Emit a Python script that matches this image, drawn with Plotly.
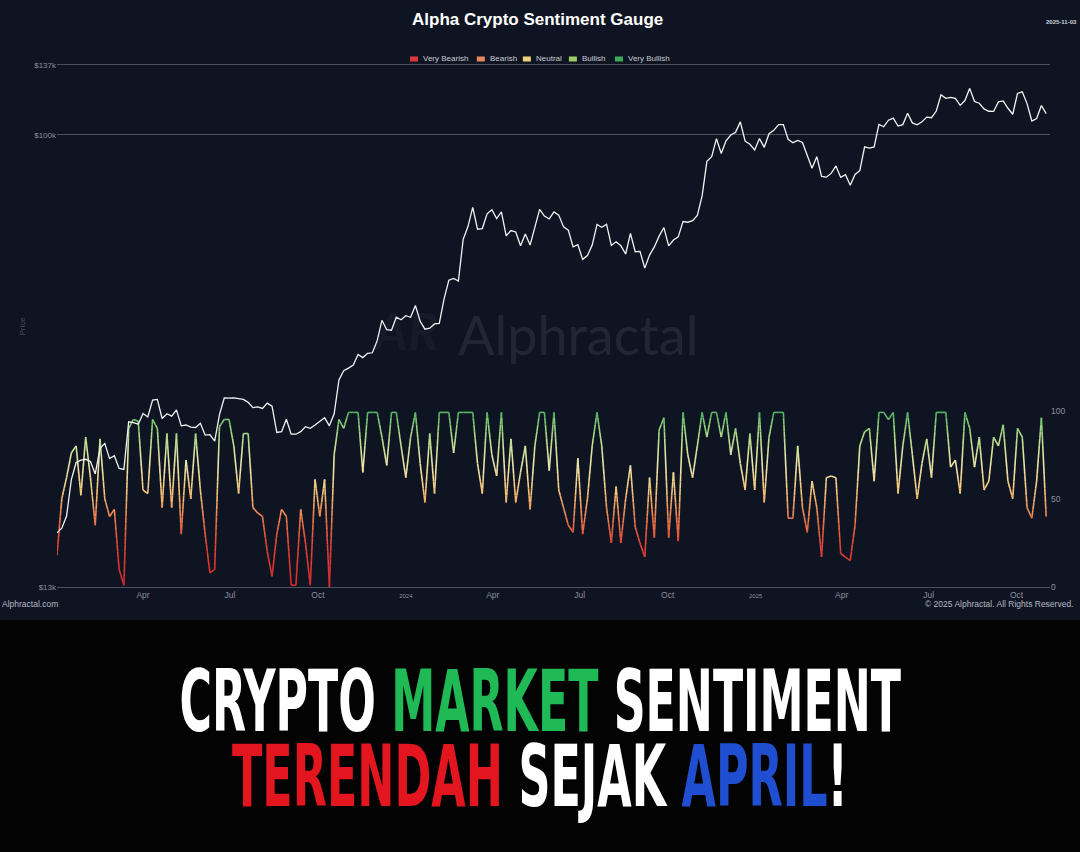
import numpy as np
import pandas as pd
import plotly.graph_objects as go

# ---------------- DATA ----------------
start_date = "2023-01-01"
step_days = 5

btc_price = [
    16600, 16950, 17900, 21100, 22800, 23050, 23130, 22900, 21650, 24300,
    24850, 23200, 23500, 22200, 22100, 27400, 27300, 27100, 28450, 28000,
    30200, 30300, 27800, 28400, 28100, 28900, 26900, 27000, 26750, 26700,
    27200, 25800, 25850, 25100, 28300, 30500, 30480, 30500, 30400, 30300,
    29900, 29200, 29300, 29100, 29800, 29400, 26100, 26200, 27700, 25900,
    25900, 26200, 26800, 26600, 27000, 27400, 27900, 26900, 28400, 33100,
    34500, 34900, 35400, 37100, 36600, 37300, 37400, 39500, 43300, 41500,
    41400, 43900, 43400, 44200, 43900, 46300, 43100, 41600, 41800, 42600,
    42700, 47700, 51900, 52300, 51700, 62400, 66100, 72100, 65300, 65500,
    70000, 71300, 68500, 70600, 63400, 64900, 64500, 60600, 63900, 60800,
    66200, 71400, 69300, 68400, 70600, 69600, 66000, 65000, 60300, 60900,
    57000, 58000, 60800, 66700, 65900, 66800, 60700, 61700, 60600, 58400,
    64100, 59000, 59100, 54800, 58100, 60300, 63300, 65800, 60600, 62200,
    63100, 67600, 67400, 67900, 69500, 75900, 88700, 90600, 98300, 91900,
    97300, 99900, 101100, 106000, 97200, 95800, 93400, 98300, 94500, 100500,
    102000, 104700, 104700, 98000, 96500, 97500, 96600, 91400, 86000, 90600,
    82900, 82600, 84000, 86900, 82500, 83500, 79600, 83600, 85100, 94700,
    94200, 94700, 104800, 103700, 106800, 107800, 104000, 104700, 110200, 105500,
    104600, 106000, 108300, 108000, 111300, 119800, 117900, 118400, 117900, 114200,
    116700, 123300, 116200, 115300, 112400, 111200, 111100, 116000, 116500, 112700,
    109700, 120500, 121400, 115100, 106400, 107600, 114100, 110000,
]

sentiment = [
    18, 50, 62, 76, 80, 52, 85, 62, 35, 84,
    50, 40, 44, 10, 1, 90, 95, 94, 55, 53,
    95, 90, 45, 87, 45, 87, 30, 72, 50, 87,
    55, 30, 8, 10, 91, 95, 95, 80, 53, 87,
    87, 45, 42, 40, 20, 6, 30, 44, 40, 1,
    1, 44, 25, 1, 61, 40, 61, 0, 75, 95,
    90, 99, 99, 99, 65, 99, 99, 99, 85, 69,
    99, 99, 80, 62, 85, 99, 70, 48, 87, 53,
    99, 99, 99, 76, 99, 99, 99, 99, 70, 53,
    99, 75, 63, 99, 48, 84, 48, 65, 80, 44,
    80, 99, 99, 66, 99, 55, 45, 35, 31, 73,
    30, 50, 80, 99, 80, 45, 25, 57, 25, 50,
    69, 34, 25, 17, 62, 28, 89, 96, 28, 65,
    26, 99, 75, 62, 80, 99, 85, 99, 99, 85,
    99, 75, 90, 70, 55, 87, 55, 99, 48, 85,
    99, 99, 99, 39, 39, 80, 45, 31, 60, 45,
    17, 62, 63, 62, 19, 17, 15, 35, 80, 88,
    90, 60, 99, 99, 95, 99, 53, 80, 99, 75,
    50, 70, 84, 62, 99, 99, 99, 68, 72, 53,
    99, 90, 68, 85, 55, 60, 85, 80, 92, 60,
    50, 90, 85, 45, 39, 60, 96, 40,
]

x_tick_dates = ["2023-04-01", "2023-07-01", "2023-10-01", "2024-01-01",
                "2024-04-01", "2024-07-01", "2024-10-01", "2025-01-01",
                "2025-04-01", "2025-07-01", "2025-10-01"]
x_tick_labels = ["Apr", "Jul", "Oct", "<span style='font-size:6px'>2024</span>",
                 "Apr", "Jul", "Oct", "<span style='font-size:6px'>2025</span>",
                 "Apr", "Jul", "Oct"]
price_ticks = [13000, 100000, 137000]
price_tick_labels = ["$13k", "$100k", "$137k"]
sent_ticks = [0, 50, 100]
sent_tick_labels = ["0", "50", "100"]

legend_names = ["Very Bearish", "Bearish", "Neutral", "Bullish", "Very Bullish"]
legend_colors = ["#d9363e", "#e8875a", "#f0d27a", "#9ccc65", "#3daa5c"]

# ---------------- LAYOUT CONSTANTS ----------------
W, H = 1080, 852
L, R, T, B = 57, 30, 65, 265
PW, PH = W - L - R, H - T - B
BG = "#0f1422"

def px(xp):
    return (xp - L) / PW

def py(yp):
    return (H - B - yp) / PH

# colour ramp for sentiment values
stops = [(0, (210, 40, 45)), (25, (226, 70, 55)), (40, (238, 130, 80)),
         (55, (244, 200, 125)), (68, (240, 228, 170)), (80, (200, 225, 150)),
         (92, (140, 205, 120)), (100, (70, 175, 95))]

def ramp(v):
    for (a, ca), (b, cb) in zip(stops[:-1], stops[1:]):
        if v <= b:
            f = (v - a) / (b - a)
            c = [round(ca[k] + f * (cb[k] - ca[k])) for k in range(3)]
            return "rgb(%d,%d,%d)" % tuple(c)
    return "rgb(%d,%d,%d)" % stops[-1][1]

n = len(sentiment)
dates = pd.date_range(start_date, periods=n, freq=f"{step_days}D")
pdates = pd.date_range(start_date, periods=len(btc_price), freq=f"{step_days}D")
tns = dates.astype("int64").to_numpy()

# split the sentiment line into colour bands (rendering of the gradient)
BAND = 4
nb = int(100 / BAND)
bx = {k: [] for k in range(nb)}
by = {k: [] for k in range(nb)}
edges = np.arange(0, 101, BAND)
for i in range(n - 1):
    x0, x1 = tns[i], tns[i + 1]
    y0, y1 = sentiment[i], sentiment[i + 1]
    lo, hi = min(y0, y1), max(y0, y1)
    cuts = sorted((e - y0) / (y1 - y0) for e in edges if lo < e < hi)
    params = [0.0] + cuts + [1.0]
    for a, b in zip(params[:-1], params[1:]):
        xa, xb = x0 + a * (x1 - x0), x0 + b * (x1 - x0)
        ya, yb = y0 + a * (y1 - y0), y0 + b * (y1 - y0)
        k = min(int(((ya + yb) / 2) // BAND), nb - 1)
        bx[k] += [pd.Timestamp(int(xa)).isoformat(), pd.Timestamp(int(xb)).isoformat(), None]
        by[k] += [ya, yb, None]

fig = go.Figure()
for k in range(nb):
    if not bx[k]:
        continue
    fig.add_trace(go.Scatter(
        x=bx[k], y=by[k], mode="lines", yaxis="y",
        line=dict(color=ramp((k + 0.5) * BAND), width=1.6),
        connectgaps=False, showlegend=False, hoverinfo="skip"))

fig.add_trace(go.Scatter(
    x=pdates, y=btc_price, mode="lines", yaxis="y2",
    line=dict(color="#f2f2f2", width=1.3), showlegend=False, name="Price"))

shapes = [
    dict(type="rect", xref="paper", yref="paper", x0=px(0), x1=px(W),
         y0=py(620), y1=py(H), fillcolor="#030303", line=dict(width=0), layer="below"),
]

BANNER_FONT = "DejaVu Sans, Liberation Sans, sans-serif"
annotations = [
    dict(text="<b>Alpha Crypto Sentiment Gauge</b>", x=px(537), y=py(20),
         xref="paper", yref="paper", showarrow=False, xanchor="center", yanchor="middle",
         font=dict(family="Liberation Sans, Arial, sans-serif", size=17, color="#ffffff")),
    dict(text="<b>2025-11-03</b>", x=px(1044), y=py(22), xref="paper", yref="paper",
         showarrow=False, xanchor="left", yanchor="middle",
         font=dict(family="Liberation Sans, Arial, sans-serif", size=6, color="#d0d3da")),
    dict(text="Price", x=px(15), y=py(326), xref="paper", yref="paper", textangle=-90,
         showarrow=False, font=dict(family="Liberation Sans, Arial", size=8, color="#454b5a")),
    dict(text="Alphractal.com", x=px(0), y=py(604), xref="paper", yref="paper",
         showarrow=False, xanchor="left", yanchor="middle",
         font=dict(family="Liberation Sans, Arial", size=8.5, color="#b4b8c2")),
    dict(text="© 2025 Alphractal. All Rights Reserved.", x=px(1075), y=py(604),
         xref="paper", yref="paper", showarrow=False, xanchor="right", yanchor="middle",
         font=dict(family="Liberation Sans, Arial", size=8.5, color="#b4b8c2")),
    dict(text="Alphractal", x=px(578), y=py(335), xref="paper", yref="paper",
         showarrow=False, xanchor="center", yanchor="middle",
         font=dict(family="Lato, Noto Sans, sans-serif", size=54, color="rgba(200,205,220,0.10)")),
    dict(text="<b><i>AR</i></b>", x=px(405), y=py(330), xref="paper", yref="paper",
         showarrow=False, xanchor="center", yanchor="middle",
         font=dict(family="Lato, Noto Sans, sans-serif", size=52, color="rgba(200,205,220,0.04)")),
    dict(text="<b>CRYPTO <span style='color:#1fb956'>MARKET</span> SENTIMENT</b>",
         x=px(540), y=py(701), xref="paper", yref="paper", showarrow=False,
         xanchor="center", yanchor="middle",
         font=dict(family=BANNER_FONT, size=86, color="#ffffff")),
    dict(text="<b><span style='color:#e3151f'>TERENDAH</span> SEJAK <span style='color:#1f4fd0'>APRIL</span>!</b>",
         x=px(540), y=py(776), xref="paper", yref="paper", showarrow=False,
         xanchor="center", yanchor="middle",
         font=dict(family=BANNER_FONT, size=86, color="#ffffff")),
]

# manual legend
lx = 410
for name, col in zip(legend_names, legend_colors):
    shapes.append(dict(type="rect", xref="paper", yref="paper", x0=px(lx), x1=px(lx + 8),
                       y0=py(61.5), y1=py(56.5), fillcolor=col, line=dict(width=0)))
    annotations.append(dict(text=name, x=px(lx + 11), y=py(59), xref="paper", yref="paper",
                            showarrow=False, xanchor="left", yanchor="middle",
                            font=dict(family="Liberation Sans, Arial", size=8, color="#c9ccd3")))
    lx += 11 + 4.15 * len(name) + 6

fig.update_layout(
    width=W, height=H,
    margin=dict(l=L, r=R, t=T, b=B),
    paper_bgcolor=BG, plot_bgcolor=BG,
    showlegend=False,
    xaxis=dict(range=["2023-01-01", "2025-11-05"], tickvals=x_tick_dates, ticktext=x_tick_labels,
               showgrid=False, zeroline=False, showline=True, mirror=True,
               linecolor="#4a505e", linewidth=1,
               ticks="", tickfont=dict(family="Liberation Sans, Arial", size=8.5, color="#8a8f9b")),
    yaxis=dict(side="right", range=[0, 296], tickvals=sent_ticks, ticktext=sent_tick_labels,
               showgrid=False, zeroline=False, ticks="",
               tickfont=dict(family="Liberation Sans, Arial", size=8.5, color="#8a8f9b")),
    yaxis2=dict(overlaying="y", side="left", type="log",
                range=[np.log10(13000), np.log10(137000)],
                tickvals=price_ticks, ticktext=price_tick_labels,
                showgrid=True, gridcolor="#4a505e", gridwidth=1, zeroline=False, ticks="",
                tickfont=dict(family="Liberation Sans, Arial", size=8, color="#8a8f9b")),
    shapes=shapes,
    annotations=annotations,
)

# page margin reset and horizontal condensing of the two banner lines (font has no condensed cut)
post_js = """
document.body.style.margin = '0';
(function(){
  var gd = document.getElementById('{plot_id}');
  if (!gd) { return; }
  var targets = [['SENTIMENT', 722], ['SEJAK', 616]];
  gd.querySelectorAll('text.annotation-text').forEach(function(t){
    var s = t.textContent;
    targets.forEach(function(tg){
      if (s.indexOf(tg[0]) >= 0 && !t.getAttribute('data-sq')) {
        var bb = t.getBBox();
        var cx = bb.x + bb.width / 2;
        var k = tg[1] / bb.width;
        t.setAttribute('transform', 'translate(' + cx + ',0) scale(' + k + ',1) translate(' + (-cx) + ',0)');
        t.setAttribute('data-sq', '1');
      }
    });
  });
})();
"""

fig.write_html("out.html", post_script=post_js, config={"displayModeBar": False})
